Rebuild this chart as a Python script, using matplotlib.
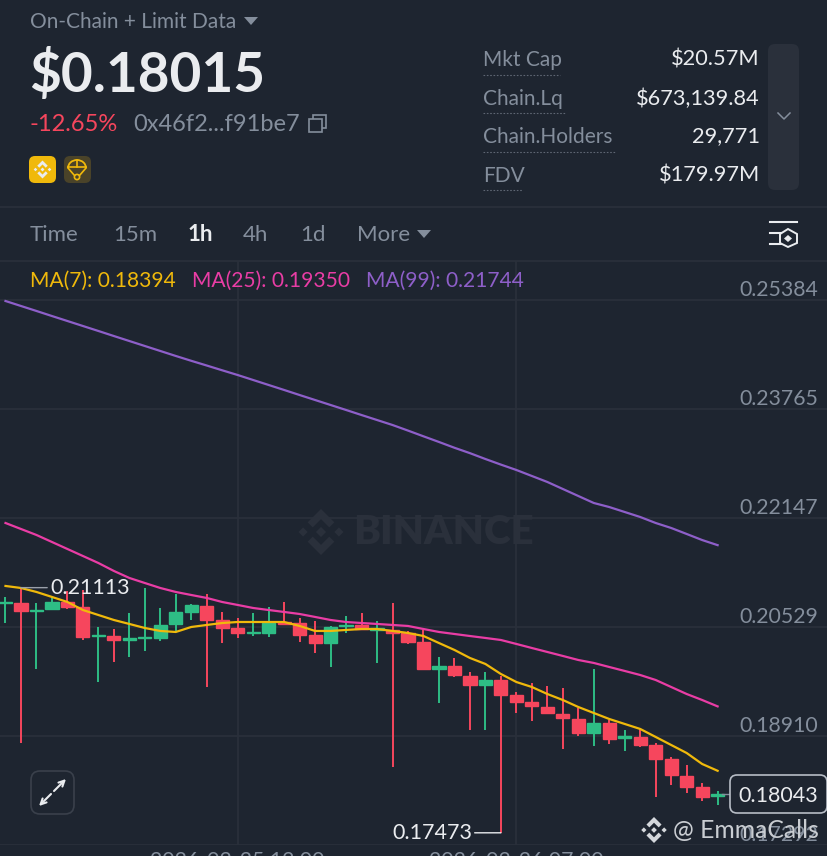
import matplotlib
matplotlib.use('Agg')
import matplotlib.pyplot as plt
from matplotlib.patches import FancyBboxPatch, Polygon, Circle, Rectangle, Arc

plt.rcParams['font.family'] = ['Lato', 'DejaVu Sans']

BG = '#1E2530'
GRID = '#2A303B'
RED = '#F6465D'
GREEN = '#2EBD85'
GREY = '#848E9C'
WHITE = '#EAECEF'
YELLOW = '#F0B90B'
PINK = '#E93DA5'
PURPLE = '#8E5FC9'

# hourly candles
opens = [.20878, .20885, .20767, .20796, .20900, .20826, .20395, .20395, .20336, .20366, .20366, .20574,
         .20752, .20841, .20633, .20514, .20440, .20440, .20603, .20588, .20410, .20291, .20544, .20559,
         .20485, .20485, .20440, .20306, .19905, .19950, .19801, .19668, .19742, .19519, .19415, .19341,
         .19237, .19163, .18955, .19104, .18881, .18896, .18777, .18569, .18317, .18154, .18020]
highs = [.20975, .21113, .20885, .20975, .21064, .21078, .20529, .20499, .20737, .21108, .20811, .21019,
         .20871, .21019, .20752, .20663, .20737, .20826, .20900, .20663, .20618, .20544, .20692, .20737,
         .20618, .20885, .20470, .20485, .20084, .20069, .19861, .19861, .19801, .19564, .19698, .19653,
         .19623, .19326, .19905, .19148, .19000, .19015, .18807, .18599, .18480, .18213, .18094]
lows = [.20588, .18807, .19905, .20796, .20796, .20336, .19712, .20009, .20084, .20173, .20321, .20455,
        .20633, .19638, .20291, .20366, .20395, .20381, .20559, .20306, .20143, .19935, .20440, .20499,
        .19995, .18450, .20277, .19891, .19400, .19787, .19000, .19000, .17473, .19252, .19133, .19252,
        .18718, .18911, .18762, .18792, .18688, .18747, .18005, .18183, .18065, .17946, .17886]
closes = [.20900, .20767, .20781, .20900, .20826, .20381, .20410, .20336, .20366, .20381, .20559, .20752,
          .20856, .20633, .20514, .20440, .20455, .20588, .20574, .20410, .20291, .20529, .20559, .20499,
          .20514, .20440, .20306, .19905, .19950, .19816, .19668, .19742, .19519, .19415, .19356, .19252,
          .19178, .18955, .19104, .18866, .18911, .18777, .18569, .18332, .18154, .18005, .18043]

ma7 = [.21138, .21108, .21049, .20975, .20900, .20781, .20707, .20633, .20574, .20514, .20470, .20455,
       .20529, .20559, .20588, .20603, .20603, .20603, .20603, .20544, .20470, .20470, .20485, .20499,
       .20499, .20470, .20440, .20395, .20291, .20188, .20069, .19980, .19831, .19712, .19638, .19534,
       .19445, .19341, .19252, .19163, .19089, .19015, .18896, .18777, .18658, .18495, .18394]
ma25 = [.22073, .21984, .21895, .21791, .21687, .21583, .21479, .21361, .21257, .21182, .21108, .21049,
        .21004, .20960, .20900, .20856, .20811, .20781, .20752, .20722, .20678, .20633, .20603, .20588,
        .20574, .20559, .20544, .20499, .20455, .20425, .20395, .20366, .20336, .20277, .20217, .20158,
        .20099, .20039, .19995, .19935, .19876, .19816, .19742, .19638, .19534, .19445, .19350]
ma99 = [.25369, .25295, .25221, .25146, .25072, .24998, .24924, .24849, .24775, .24701, .24627, .24553,
        .24481, .24411, .24340, .24270, .24196, .24122, .24048, .23973, .23899, .23825, .23751, .23676,
        .23602, .23528, .23445, .23360, .23276, .23190, .23110, .23023, .22940, .22860, .22771, .22682,
        .22578, .22474, .22370, .22310, .22236, .22162, .22073, .21999, .21910, .21820, .21744]

price_ticks = [.25384, .23765, .22147, .20529, .18910, .17292]
time_ticks = [15, 33]
time_labels = ['2026-02-25 12:00', '2026-02-26 07:00']

stat_names = ['Mkt Cap', 'Chain.Lq', 'Chain.Holders', 'FDV']
stat_values = ['$20.57M', '$673,139.84', '29,771', '$179.97M']
tabs = ['Time', '15m', '1h', '4h', '1d', 'More']


def round_box(ax, x, y, w, h, r, fc, ec='none', lw=1.0, z=1, ls='-'):
    ax.add_patch(FancyBboxPatch((x, y), w, h, boxstyle=f'round,pad=0,rounding_size={r}',
                                fc=fc, ec=ec, lw=lw, ls=ls, zorder=z))


def binance_logo(ax, cx, cy, r, color, z=3):
    top = [(0, -1), (.58, -.42), (.36, -.2), (0, -.56), (-.36, -.2), (-.58, -.42)]
    bottom = [(x, -y) for x, y in top]
    for pts in (top, bottom):
        ax.add_patch(Polygon([(cx + x*r, cy + y*r) for x, y in pts], fc=color, ec='none', zorder=z))
    for dx, d in ((0, .22), (-.78, .2), (.78, .2)):
        ax.add_patch(Polygon([(cx + (dx+d)*r, cy), (cx + dx*r, cy + d*r), (cx + (dx-d)*r, cy), (cx + dx*r, cy - d*r)],
                             fc=color, ec='none', zorder=z))


def triangle(ax, x0, x1, y0, y1, color):
    ax.add_patch(Polygon([(x0, y0), (x1, y0), ((x0+x1)/2, y1)], fc=color, ec='none'))


def pixel_axes(fig, z):
    ax = fig.add_axes([0, 0, 1, 1], zorder=z)
    ax.set_xlim(0, 828)
    ax.set_ylim(856, 0)
    ax.axis('off')
    ax.patch.set_visible(False)
    return ax


fig = plt.figure(figsize=(8.28, 8.56), dpi=100, facecolor=BG)
back = pixel_axes(fig, 0)
ui = pixel_axes(fig, 2)

# candle chart, x is the candle number
ax = fig.add_axes([0, 11/856, 1, 584/856], zorder=1)
ax.patch.set_visible(False)
ax.set_xlim(-0.355, 53.13)
ax.set_ylim(.17292, .25963)
for s in ax.spines.values():
    s.set_visible(False)
ax.tick_params(left=False, bottom=False, labelleft=False, labelbottom=False)
ax.set_yticks(price_ticks)
ax.set_xticks(time_ticks)
ax.grid(True, color=GRID, lw=1.3, zorder=0)
ax.set_axisbelow(True)

for i in range(len(opens)):
    color = GREEN if closes[i] >= opens[i] else RED
    ax.vlines(i, lows[i], highs[i], color=color, lw=1.4, zorder=2)
    ax.bar(i, abs(closes[i]-opens[i]), bottom=min(opens[i], closes[i]), width=.85,
           color=color, edgecolor=color, lw=1, zorder=3)

ax.plot(range(len(ma99)), ma99, color=PURPLE, lw=1.6, zorder=4)
ax.plot(range(len(ma25)), ma25, color=PINK, lw=1.6, zorder=4)
ax.plot(range(len(ma7)), ma7, color=YELLOW, lw=1.6, zorder=4)

for p in price_ticks:
    ax.annotate(f'{p:.5f}', (1, p), xycoords=('axes fraction', 'data'), xytext=(-10, 0),
                textcoords='offset pixels', ha='right', va='bottom', color=GREY, fontsize=15.3, zorder=1)

ax.annotate('0.21113', (1, .21113), xytext=(29, 0), textcoords='offset pixels', color=WHITE, fontsize=15.5,
            va='center', ha='left', zorder=6,
            arrowprops=dict(arrowstyle='-', color='#9AA0AA', lw=1, shrinkA=0, shrinkB=0))
ax.annotate('0.17473', (32, .17473), xytext=(-29, 0), textcoords='offset pixels', color=WHITE, fontsize=15.5,
            va='center', ha='right', zorder=6,
            arrowprops=dict(arrowstyle='-', color=WHITE, lw=1, shrinkA=0, shrinkB=0))

# watermark in the middle
binance_logo(back, 321, 532, 23, '#2A303B')
back.text(353, 532, 'BINANCE', color='#2A303B', fontsize=29, fontweight='heavy', va='center', ha='left')

# header
ui.plot([0, 828], [207, 207], color=GRID, lw=1.3)
ui.plot([0, 828], [261, 261], color=GRID, lw=1.3)
ui.set_xlim(0, 828)
ui.set_ylim(856, 0)
ui.text(30, 22, 'On-Chain + Limit Data', color=GREY, fontsize=15, va='center')
triangle(ui, 244, 258, 17, 25, GREY)
ui.text(29, 74, '$0.18015', color=WHITE, fontsize=39.5, fontweight='bold', va='center')
ui.text(30, 124, '-12.65%', color=RED, fontsize=17, va='center')
ui.text(133, 124, '0x46f2...f91be7', color=GREY, fontsize=17, va='center')
ui.add_patch(Rectangle((313, 115), 13, 13, fc=BG, ec=GREY, lw=1.2))
ui.add_patch(Rectangle((309, 119), 13, 13, fc=BG, ec=GREY, lw=1.2))

round_box(ui, 29, 156, 27, 27, 6, YELLOW)
binance_logo(ui, 42.5, 169.5, 9, WHITE)
round_box(ui, 64, 156, 27, 27, 6, '#4A4329')
ui.add_patch(Arc((77, 168), 18, 16, theta1=180, theta2=360, ec=YELLOW, lw=1.3, zorder=3))
ui.plot([68, 86], [167, 167], color=YELLOW, lw=1.2, zorder=3)
ui.plot([77, 77], [160, 167], color=YELLOW, lw=1.2, zorder=3)
ui.plot([68, 74.5], [168, 175.5], color=YELLOW, lw=1.2, zorder=3)
ui.plot([86, 79.5], [168, 175.5], color=YELLOW, lw=1.2, zorder=3)
ui.add_patch(Circle((77, 177), 2.6, fc='none', ec=YELLOW, lw=1.2, zorder=3))

stat_y = [59.5, 98.5, 136.5, 175.5]
stat_line_y = [74.5, 113, 151.5, 190]
stat_line_x = [560, 566, 616, 523]
for name, value, y, ly, lx in zip(stat_names, stat_values, stat_y, stat_line_y, stat_line_x):
    ui.text(483, y, name, color=GREY, fontsize=15, va='center')
    ui.text(760, y, value, color=WHITE, fontsize=15.7, va='center', ha='right')
    ui.plot([483, lx], [ly, ly], color='#5E6673', lw=.8, ls=(0, (1.5, 1.5)))
round_box(ui, 768, 44, 31, 146, 7, '#2A303B')
ui.plot([778, 784, 790], [113, 119, 113], color=GREY, lw=1.1, zorder=3)

# tabs
tab_x = [30, 113, 188, 243, 300, 357]
for name, x in zip(tabs, tab_x):
    active = name == '1h'
    ui.text(x, 234.5, name, color=WHITE if active else GREY, fontsize=16,
            fontweight='bold' if active else 'normal', va='center')
triangle(ui, 417, 431, 230, 238, GREY)
ui.plot([770, 797], [222, 222], color=WHITE, lw=1.5)
ui.plot([770, 781], [233, 233], color=WHITE, lw=1.5)
ui.plot([770, 781], [244, 244], color=WHITE, lw=1.5)
ui.add_patch(Polygon([(788, 229), (797, 234), (797, 243), (788, 247), (780, 243), (780, 234)],
                     fc='none', ec=WHITE, lw=1.4))
ui.add_patch(Polygon([(788, 235), (792, 238.5), (788, 242), (784, 238.5)], fc=WHITE, ec='none'))

# moving average legend
ui.text(30, 280.5, f'MA(7): {ma7[-1]:.5f}', color=YELLOW, fontsize=15.1, va='center')
ui.text(192, 280.5, f'MA(25): {ma25[-1]:.5f}', color=PINK, fontsize=15.1, va='center')
ui.text(366, 280.5, f'MA(99): {ma99[-1]:.5f}', color=PURPLE, fontsize=15.1, va='center')

# fullscreen button
round_box(ui, 31, 771, 43, 43, 9, BG, ec='#3A404B', lw=1.2)
ui.annotate('', (66, 779), (54, 791), arrowprops=dict(arrowstyle='->', color=WHITE, lw=1.5, shrinkA=0, shrinkB=0))
ui.annotate('', (39, 806), (51, 794), arrowprops=dict(arrowstyle='->', color=WHITE, lw=1.5, shrinkA=0, shrinkB=0))

# last price tag
ui.plot([722, 731], [794, 794], color=GREY, lw=1)
round_box(ui, 730, 775, 97, 38, 7, BG, ec='#B7BDC6', lw=1.2, z=5)
ui.text(778.5, 796, f'{closes[-1]:.5f}', color=WHITE, fontsize=15.5, va='center', ha='center', zorder=6)

# x labels, cut off by the bottom edge in the screenshot
for t, label in zip(time_ticks, time_labels):
    ui.text(5.5 + 15.48*t, 861, label, color=GREY, fontsize=15.3, ha='center', va='center')

# user watermark
binance_logo(ui, 654, 830, 13, '#D5D8DC', z=7)
ui.text(673, 830.5, '@ EmmaCalls', color='#C9CDD2', fontsize=17.8, va='center', ha='left', zorder=7)

fig.savefig('out.png', dpi=100, facecolor=BG)
